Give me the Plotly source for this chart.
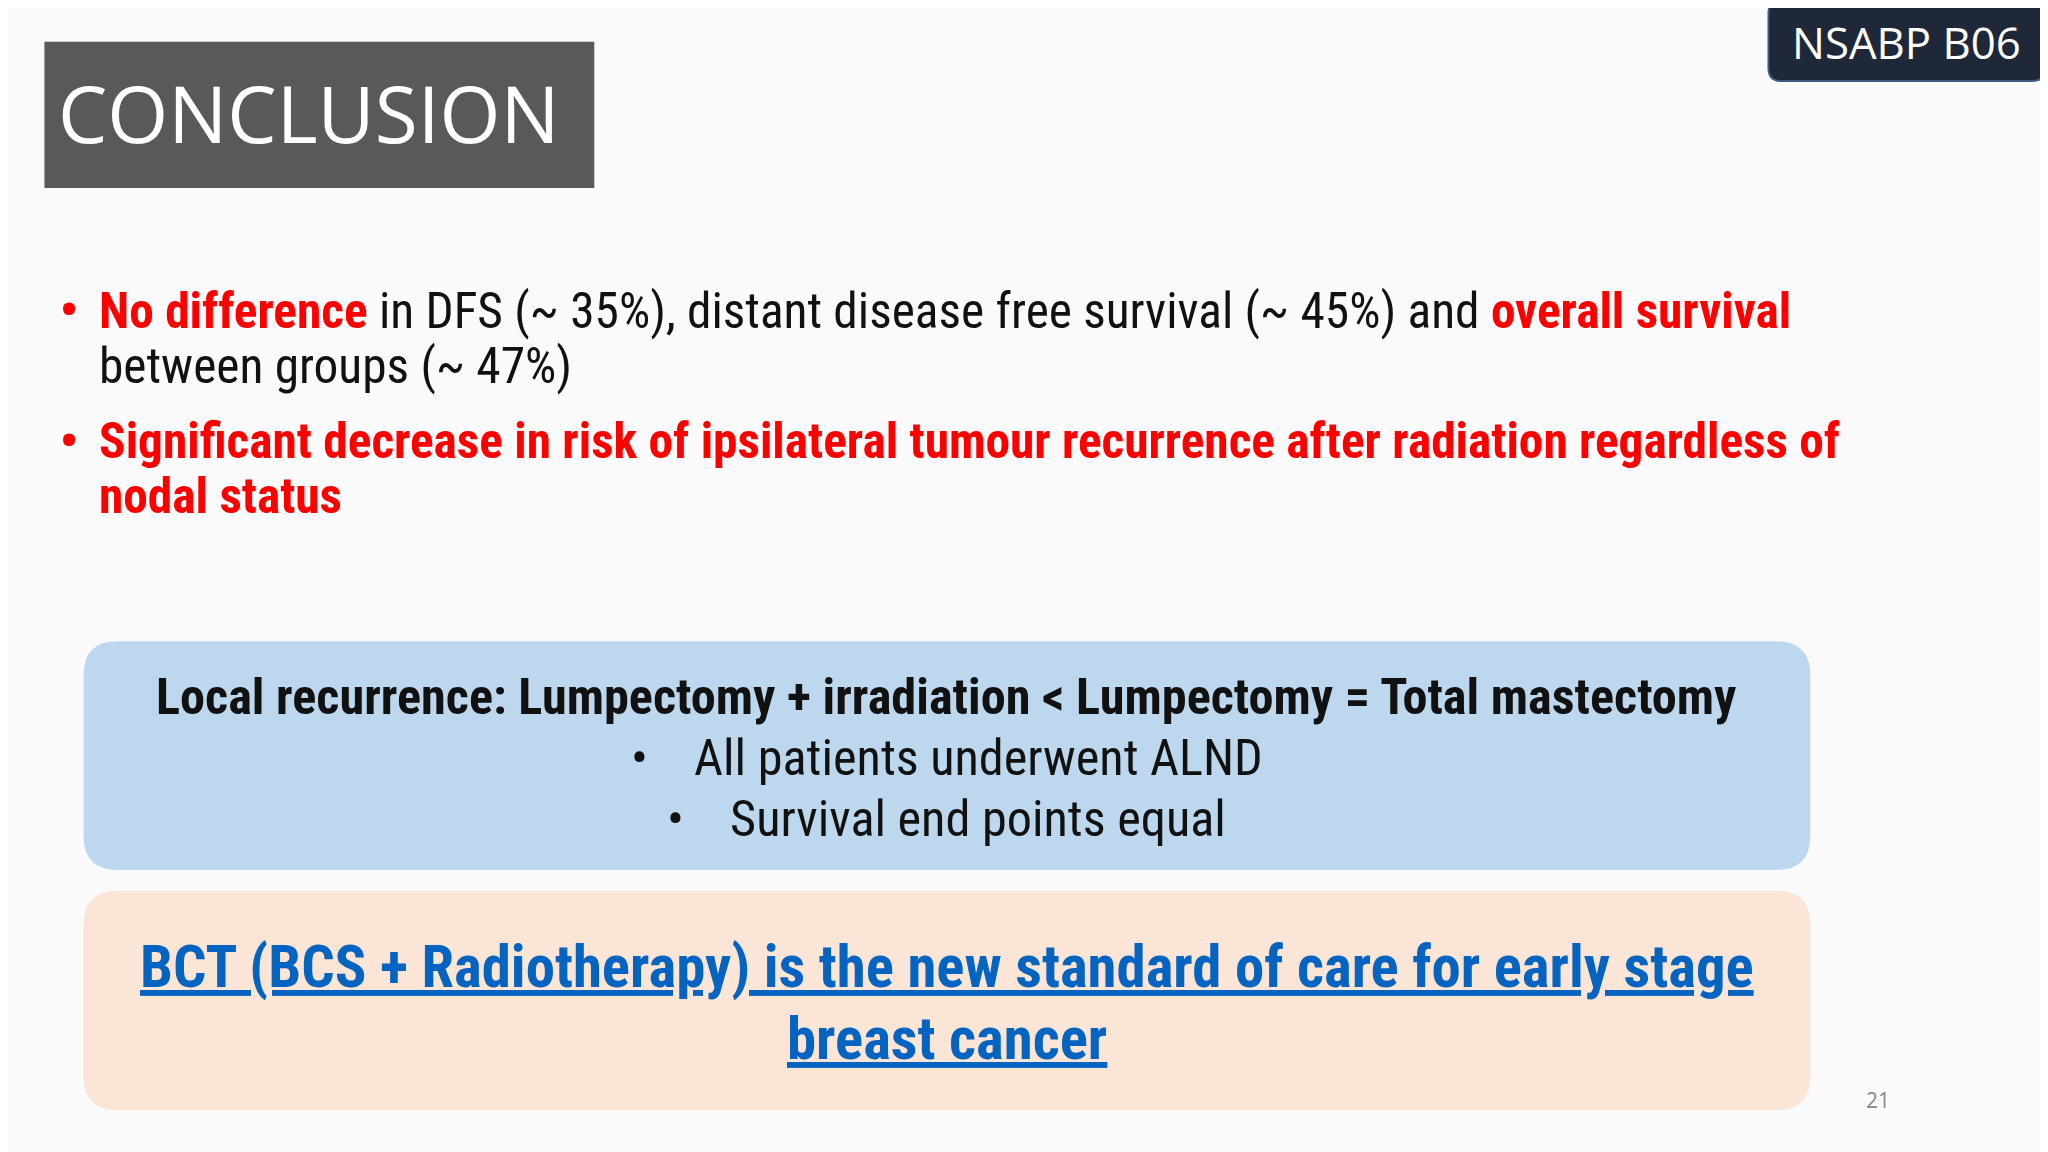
import plotly.graph_objects as go

# slide laid out on a 1568 x 882 grid (scaled to 2048 x 1152)
W, H = 1568, 882
S = 2048 / W
OFF = 8 / S  # page body margin

title = "CONCLUSION"
tag = "NSABP B06"
bullets = [
    ["<span style='color:#ff0000'><b>No difference</b></span> in DFS (~ 35%), distant disease free survival (~ 45%) and <span style='color:#ff0000'><b>overall survival</b></span>",
     "between groups (~ 47%)"],
    ["<span style='color:#ff0000'><b>Significant decrease in risk of ipsilateral tumour recurrence after radiation regardless of</b></span>",
     "<span style='color:#ff0000'><b>nodal status</b></span>"],
]
box1_lines = ["<b>Local recurrence: Lumpectomy + irradiation < Lumpectomy = Total mastectomy</b>",
              "•    All patients underwent ALND",
              "•    Survival end points equal"]
box2_lines = ["<u><b>BCT (BCS + Radiotherapy) is the new standard of care for early stage</b></u>",
              "<u><b>breast cancer</b></u>"]
page_no = "21"

NARROW = "Liberation Sans Narrow, Arial Narrow, Roboto Condensed, sans-serif"
fig = go.Figure()


def rbox(x0, y0, x1, y1, r, fill, line=None):
    path = (f"M{x0+r},{y0} L{x1-r},{y0} Q{x1},{y0} {x1},{y0+r} L{x1},{y1-r} Q{x1},{y1} {x1-r},{y1} "
            f"L{x0+r},{y1} Q{x0},{y1} {x0},{y1-r} L{x0},{y0+r} Q{x0},{y0} {x0+r},{y0} Z")
    fig.add_shape(type="path", path=path, fillcolor=fill, xref="x", yref="y",
                  line=dict(color=line or fill, width=2 if line else 0), layer="below")


def txt(x, y, s, size, color="#111111", family=NARROW, anchor="left"):
    fig.add_annotation(x=x, y=y, text=s, showarrow=False, xref="x", yref="y",
                       xanchor=anchor, yanchor="middle",
                       font=dict(size=size * S, color=color, family=family))


fig.add_shape(type="rect", x0=34, y0=32, x1=455, y1=144, fillcolor="#595959", line_width=0)
txt(43, 86, title, 60, "white", "Open Sans, sans-serif")
rbox(1354, 0, 1566, 62, 10, "#1e2838", "#3d5a80")
txt(1460, 32, tag, 33.5, "white", "Open Sans, sans-serif", "center")

y = 238
for lines in bullets:
    txt(44, y, "<span style='color:#ff0000'>•</span>", 46)
    for ln in lines:
        txt(74, y, ln, 37.8)
        y += 42
    y += 16

rbox(64, 491, 1386, 666, 26, "#bdd7ee")
for i, ln in enumerate(box1_lines):
    txt(725, 533 + 47 * i, ln, 38.5, anchor="center")
rbox(64, 682, 1386, 850, 26, "#fbe5d6")
for i, ln in enumerate(box2_lines):
    txt(725, 740 + 55 * i, ln, 45, "#0563c1", anchor="center")
txt(1438, 842, page_no, 16, "#888888", "Open Sans, sans-serif", "center")

fig.update_xaxes(range=[OFF, W + OFF], visible=False, fixedrange=True)
fig.update_yaxes(range=[H + OFF, OFF], visible=False, fixedrange=True)
fig.update_layout(width=2048, height=1152, margin=dict(l=0, r=0, t=0, b=0),
                  plot_bgcolor="#fafafa", paper_bgcolor="#fafafa", showlegend=False)
fig.write_html("out.html")
